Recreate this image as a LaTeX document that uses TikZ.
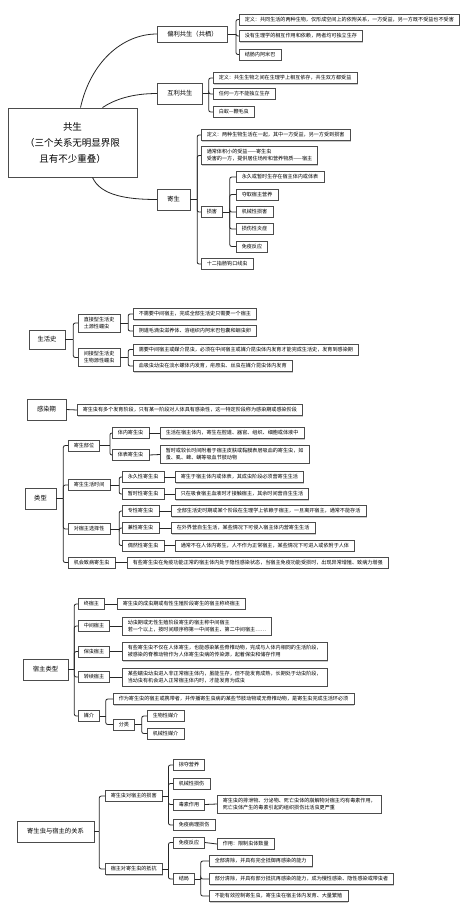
\documentclass[tikz,border=0pt]{standalone}
\usepackage{fontspec}
\setmainfont{Noto Sans CJK SC}
\usetikzlibrary{shadows,calc}
\tikzset{
 box/.style={draw=black!70, line width=0.55pt, fill=white, drop shadow={shadow xshift=0.7pt, shadow yshift=-0.9pt, fill=black!40, opacity=0.5}},
 leaf/.style={box, anchor=west, align=left, inner xsep=5.5pt, inner ysep=3.2pt, font=\fontsize{5.1}{7}\selectfont},
 mid/.style={box, anchor=west, inner xsep=10pt, inner ysep=0pt, font=\fontsize{6.3}{8}\selectfont},
 topn/.style={box, font=\fontsize{6.3}{8}\selectfont, inner sep=0pt},
 conn/.style={draw=black!85, line width=0.8pt},
 br/.style={conn, rounded corners=2pt},
}
\newcommand{\fork}[3]{\draw[conn] (#1.east) -- ++(#2,0) coordinate (#1-j);
  \foreach \c in {#3} {\draw[br] (#1-j) |- (\c.west);}}
\begin{document}
\begin{tikzpicture}[x=1pt,y=-1pt]
\useasboundingbox (0,0) rectangle (474,914);
\fill[white] (0,0) rectangle (474,914);
% ===== Section 1 =====
\node[box, line width=0.9pt, minimum width=129pt, minimum height=69pt, align=center, inner sep=0pt, font=\fontsize{9.5}{16}\selectfont] (gs) at (72.5,142.5) {共生\\（三个关系无明显界限\\且有不少重叠）};
\node[mid, minimum height=16pt] (pl) at (157,34) {偏利共生（共栖）};
\node[leaf] (pl1) at (239,19.5) {定义：共同生活的两种生物，仅形成空间上的依附关系，一方受益，另一方既不受益也不受害};
\node[leaf] (pl2) at (239,36) {没有生理学的相互作用和依赖，两者均可独立生存};
\node[leaf] (pl3) at (239,54.5) {结肠内阿米巴};
\node[mid, minimum height=21pt] (hl) at (157,93.5) {互利共生};
\node[leaf] (hl1) at (213,78) {定义：共生生物之间在生理学上相互依存，共生双方都受益};
\node[leaf] (hl2) at (213,94) {任何一方不能独立生存};
\node[leaf] (hl3) at (213,112) {白蚁—鞭毛虫};
\node[mid, minimum height=21pt] (js) at (157,199.5) {寄生};
\node[leaf] (js1) at (201,135) {定义：两种生物生活在一起，其中一方受益，另一方受到损害};
\node[leaf] (js2) at (201,155.5) {通常体积小的受益——寄生虫\\受害的一方，提供居住场所和营养物质——宿主};
\node[leaf] (js3) at (201,212) {损害};
\node[leaf] (js3a) at (236,177) {永久或暂时生存在宿主体内或体表};
\node[leaf] (js3b) at (236,194.5) {夺取宿主营养};
\node[leaf] (js3c) at (236,212) {机械性损害};
\node[leaf] (js3d) at (236,229) {损伤性炎症};
\node[leaf] (js3e) at (236,246.5) {免疫反应};
\node[leaf] (js4) at (201,264) {十二指肠钩口线虫};
\draw[conn] ($(gs.north)+(8,0)$) .. controls +(10,-45) and +(-35,0) .. (pl.west);
\draw[conn] ($(gs.north)+(30,0)$) .. controls +(12,-8) and +(-25,0) .. (hl.west);
\draw[conn] ($(gs.south)+(20,0)$) .. controls +(8,18) and +(-30,0) .. (js.west);
\fork{pl}{8}{pl1,pl2,pl3}
\fork{hl}{6}{hl1,hl2,hl3}
\fork{js}{7}{js1,js2,js3,js4}
\fork{js3}{7}{js3a,js3b,js3c,js3d,js3e}
% ===== Section 2 =====
\node[topn, minimum width=36pt, minimum height=19pt] (shs) at (47,339.5) {生活史};
\node[leaf] (zj) at (78,323) {直接型生活史\\土源性蠕虫};
\node[leaf] (jj) at (78,357.5) {间接型生活史\\生物源性蠕虫};
\node[leaf] (zj1) at (133,314) {不需要中间宿主，完成全部生活史只需要一个宿主};
\node[leaf] (zj2) at (133,331) {阴道毛滴虫滋养体、溶组织内阿米巴包囊和蛔虫卵};
\node[leaf] (jj1) at (133,349.5) {需要中间宿主或媒介昆虫，必须在中间宿主或媒介昆虫体内发育才能完成生活史，发育到感染期};
\node[leaf] (jj2) at (133,366) {血吸虫幼虫在淡水螺体内发育，疟原虫、丝虫在媒介昆虫体内发育};
\fork{shs}{8}{zj,jj}
\fork{zj}{8}{zj1,zj2}
\fork{jj}{8}{jj1,jj2}
% ===== Section 3 =====
\node[topn, minimum width=39pt, minimum height=21pt] (grq) at (46.5,409.5) {感染期};
\node[leaf] (grq1) at (77,410) {寄生虫有多个发育阶段，只有某一阶段对人体具有感染性，这一特定阶段称为感染期或感染阶段};
\draw[conn] (grq.east) -- (grq1.west);
\node[topn, minimum width=31pt, minimum height=21pt] (lx) at (40.5,498.5) {类型};
\node[leaf] (jsbw) at (68,445.5) {寄生部位};
\node[leaf] (tn) at (112,433) {体内寄生虫};
\node[leaf] (tn1) at (160,433) {生活在宿主体内，寄生在腔道、器官、组织、细胞或体液中};
\node[leaf] (tb) at (112,455) {体表寄生虫};
\node[leaf] (tb1) at (160,454.5) {暂时或较长时间附着于宿主皮肤或黏膜表层吸血的寄生虫，如\\蚤、虱、蜱、螨等吸血节肢动物};
\node[leaf] (sjsh) at (68,485) {寄生生活时间};
\node[leaf] (yj) at (122,477) {永久性寄生虫};
\node[leaf] (yj1) at (175,477) {寄生于宿主体内或体表，其成虫阶段必须营寄生生活};
\node[leaf] (zs) at (122,494) {暂时性寄生虫};
\node[leaf] (zs1) at (175,494) {只在吸食宿主血液时才接触宿主，其余时间营自生生活};
\node[leaf] (dxz) at (68,529) {对宿主选择性};
\node[leaf] (zx) at (122,511) {专性寄生虫};
\node[leaf] (zx1) at (171,511) {全部生活史时期或某个阶段在生理学上依赖于宿主，一旦离开宿主，通常不能存活};
\node[leaf] (jx) at (122,528) {兼性寄生虫};
\node[leaf] (jx1) at (171,528) {在外界营自生生活，某些情况下可侵入宿主体内营寄生生活};
\node[leaf] (or) at (122,545.5) {偶然性寄生虫};
\node[leaf] (or1) at (175,545.5) {通常不在人体内寄生，人不作为正常宿主，某些情况下可进入或依附于人体};
\node[leaf] (jh) at (68,562.5) {机会致病寄生虫};
\node[leaf] (jh1) at (127,562.5) {有些寄生虫在免疫功能正常的宿主体内处于隐性感染状态，当宿主免疫功能受损时，出现异常增殖、致病力增强};
\fork{lx}{7}{jsbw,sjsh,dxz,jh}
\fork{jsbw}{10}{tn,tb}
\fork{sjsh}{9}{yj,zs}
\fork{dxz}{9}{zx,jx,or}
\draw[conn] (tn.east) -- (tn1.west);
\draw[conn] (tb.east) -- (tb1.west);
\draw[conn] (yj.east) -- (yj1.west);
\draw[conn] (zs.east) -- (zs1.west);
\draw[conn] (zx.east) -- (zx1.west);
\draw[conn] (jx.east) -- (jx1.west);
\draw[conn] (or.east) -- (or1.west);
\draw[conn] (jh.east) -- (jh1.west);
% ===== Section 4 =====
\node[topn, minimum width=45pt, minimum height=21pt] (szlx) at (45.5,669.5) {宿主类型};
\node[leaf] (zsz) at (78,604) {终宿主};
\node[leaf] (zsz1) at (117,604) {寄生虫的成虫期或有性生殖阶段寄生的宿主称终宿主};
\node[leaf] (zjs) at (78,626) {中间宿主};
\node[leaf] (zjs1) at (122,626) {幼虫期或无性生殖阶段寄生的宿主称中间宿主\\若一个以上，按时间顺序称第一中间宿主、第二中间宿主……};
\node[leaf] (bc) at (78,651.5) {保虫宿主};
\node[leaf] (bc1) at (122,651.5) {有些寄生虫不仅在人体寄生，也能感染某些脊椎动物，完成与人体内相同的生活阶段，\\被感染的脊椎动物作为人体寄生虫病的传染源，起着保虫和储存作用};
\node[leaf] (zxs) at (78,677) {转续宿主};
\node[leaf] (zxs1) at (122,677) {某些蠕虫幼虫进入非正常宿主体内，虽能生存，但不能发育成熟，长期处于幼虫阶段，\\当幼虫有机会进入正常宿主体内时，才能发育为成虫};
\node[leaf] (mj) at (78,716) {媒介};
\node[leaf] (mj1) at (113,699) {作为寄生虫的宿主或携带者，并传播寄生虫病的某些节肢动物或无脊椎动物，是寄生虫完成生活环必须};
\node[leaf] (fl) at (113,724.5) {分类};
\node[leaf] (sw) at (147,716) {生物性媒介};
\node[leaf] (jxm) at (147,733.5) {机械性媒介};
\fork{szlx}{6}{zsz,zjs,bc,zxs,mj}
\draw[conn] (zsz.east) -- (zsz1.west);
\draw[conn] (zjs.east) -- (zjs1.west);
\draw[conn] (bc.east) -- (bc1.west);
\draw[conn] (zxs.east) -- (zxs1.west);
\fork{mj}{6}{mj1,fl}
\fork{fl}{7}{sw,jxm}
% ===== Section 5 =====
\node[topn, minimum width=77pt, minimum height=21pt] (gx) at (55.5,831.5) {寄生虫与宿主的关系};
\node[leaf] (sh) at (105,796) {寄生虫对宿主的损害};
\node[leaf] (ld) at (173,765) {掠夺营养};
\node[leaf] (jxs) at (173,783.5) {机械性损伤};
\node[leaf] (ds) at (173,804.5) {毒素作用};
\node[leaf] (ds1) at (217,804) {寄生虫的排泄物、分泌物、死亡虫体的崩解物对宿主均有毒素作用，\\死亡虫体产生的毒素引起的组织损伤比活虫更严重};
\node[leaf] (my) at (173,825) {免疫病理损伤};
\node[leaf] (dk) at (105,869) {宿主对寄生虫的抵抗};
\node[leaf] (myfy) at (173,842.5) {免疫反应};
\node[leaf] (myfy1) at (217,844) {作用：限制虫体数量};
\node[leaf] (jjj) at (173,879) {结局};
\node[leaf] (ja) at (209,861) {全部清除，并具有完全抵御再感染的能力};
\node[leaf] (jb) at (209,879) {部分清除，并具有部分抵抗再感染的能力，成为慢性感染、隐性感染或带虫者};
\node[leaf] (jc) at (209,896) {不能有效控制寄生虫，寄生虫在宿主体内发育、大量繁殖};
\fork{gx}{5}{sh,dk}
\fork{sh}{6}{ld,jxs,ds,my}
\fork{dk}{6}{myfy,jjj}
\fork{jjj}{6}{ja,jb,jc}
\draw[conn] (ds.east) -- (ds1.west);
\draw[conn] (myfy.east) -- (myfy1.west);
\end{tikzpicture}
\end{document}
